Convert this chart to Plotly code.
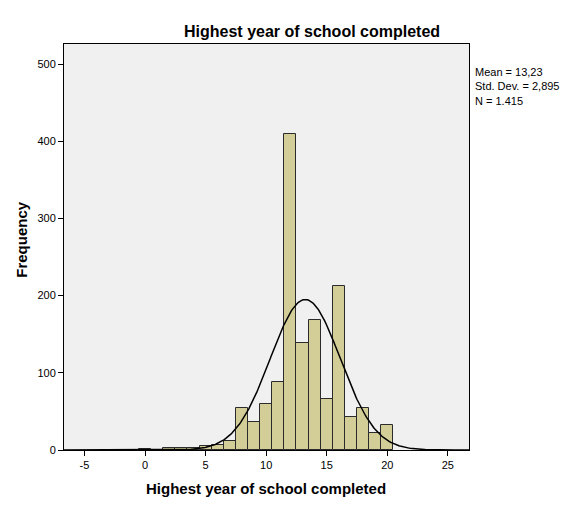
import numpy as np
import plotly.graph_objects as go

# =========================
# Dados
# =========================
anos = [0, 2, 3, 4, 5, 6, 7, 8, 9, 10, 11, 12, 13, 14, 15, 16, 17, 18, 19, 20]
frequencia = [1, 2, 2, 3, 5, 6, 12, 54, 36, 60, 88, 410, 138, 168, 66, 212, 43, 54, 22, 33]

media = 13.23
desvio = 2.895
n_total = 1415
largura_bin = 1

x_ticks = [-5, 0, 5, 10, 15, 20, 25]
y_ticks = [0, 100, 200, 300, 400, 500]

# curva normal ajustada (N * largura * densidade)
x_curva = np.linspace(-6.7, 26.75, 400)
y_curva = n_total * largura_bin / (desvio * np.sqrt(2 * np.pi)) * np.exp(-0.5 * ((x_curva - media) / desvio) ** 2)

FONTE = "Liberation Sans, Arial, sans-serif"

fig = go.Figure()

fig.add_trace(go.Bar(
    x=anos, y=frequencia, width=largura_bin,
    marker=dict(color="#D3CE97", line=dict(color="#2b2b2b", width=1)),
    hoverinfo="x+y"
))

fig.add_trace(go.Scatter(
    x=x_curva, y=y_curva, mode="lines",
    line=dict(color="#000000", width=1.5),
    hoverinfo="skip"
))

# a página tem 8px de margem no body, por isso a figura é um pouco menor
fig.update_layout(
    width=561, height=503,
    margin=dict(l=56, r=100, t=36, b=61),
    paper_bgcolor="white",
    plot_bgcolor="#F0F0F0",
    showlegend=False,
    bargap=0,
    font=dict(family=FONTE, size=11, color="#000000"),
    title=dict(
        text="<b>Highest year of school completed</b>",
        font=dict(size=16, family=FONTE, color="#000000"),
        xref="container", x=0.542, xanchor="center",
        yref="container", y=0.954, yanchor="middle"
    )
)

fig.update_xaxes(
    range=[-6.69, 26.75],
    tickvals=x_ticks, ticktext=[str(v) for v in x_ticks],
    ticks="outside", ticklen=5, tickcolor="#000000",
    showgrid=False, zeroline=False,
    showline=True, linecolor="#000000", linewidth=1, mirror=True,
    tickfont=dict(size=11)
)
fig.update_yaxes(
    range=[0, 526],
    tickvals=y_ticks, ticktext=[str(v) for v in y_ticks],
    ticks="outside", ticklen=5, tickcolor="#000000",
    showgrid=False, zeroline=False,
    showline=True, linecolor="#000000", linewidth=1, mirror=True,
    tickfont=dict(size=11)
)

# títulos dos eixos
fig.add_annotation(
    text="<b>Highest year of school completed</b>",
    xref="paper", yref="paper", x=0.499, y=-0.096,
    xanchor="center", yanchor="middle", showarrow=False,
    font=dict(size=15, family=FONTE)
)
fig.add_annotation(
    text="<b>Frequency</b>",
    xref="paper", yref="paper", x=-0.104, y=0.52,
    xanchor="center", yanchor="middle", textangle=-90, showarrow=False,
    font=dict(size=15, family=FONTE)
)

# estatísticas
fig.add_annotation(
    text="Mean = 13,23<br>Std. Dev. = 2,895<br>N = 1.415",
    xref="paper", yref="paper", x=1.01, y=0.95,
    xanchor="left", yanchor="top", align="left", showarrow=False,
    font=dict(size=11, family=FONTE)
)

fig.write_html("out.html")
